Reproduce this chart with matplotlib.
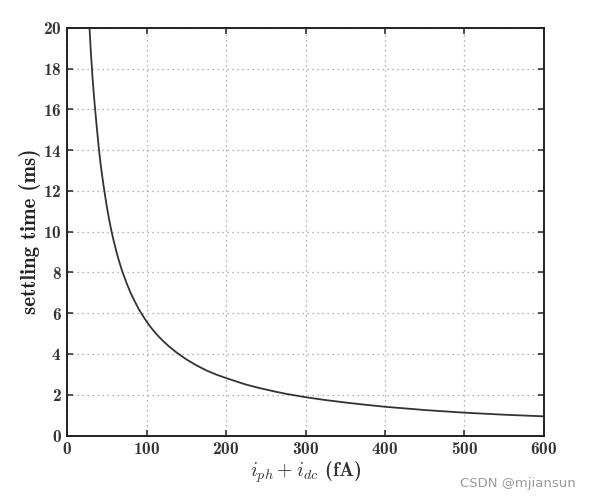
import matplotlib
matplotlib.use('Agg')
import matplotlib.pyplot as plt

# photocurrent + dark current (fA) vs settling time (ms)
current = [28.3, 29, 30, 31.2, 32, 33, 34, 35.4, 37, 38.5, 40, 42, 43.5, 45.8,
           48, 50, 52.5, 55, 57.5, 60, 62.5, 65, 67.5, 70, 75, 80, 85, 90, 96,
           100, 105, 110, 115, 120, 128, 137.5, 150, 162, 175, 187, 200, 225,
           242, 260, 275, 300, 325, 350, 375, 400, 450, 500, 550, 600]
settling = [20, 19.5, 18.8, 18.1, 17.6, 17.1, 16.6, 16, 15.3, 14.7, 14.1,
            13.4, 12.95, 12.3, 11.75, 11.25, 10.7, 10.2, 9.75, 9.35, 8.97,
            8.62, 8.3, 8.0, 7.47, 7.0, 6.6, 6.22, 5.84, 5.6, 5.33, 5.09, 4.87,
            4.67, 4.38, 4.08, 3.74, 3.46, 3.2, 3.0, 2.82, 2.5, 2.33, 2.17,
            2.05, 1.88, 1.74, 1.62, 1.51, 1.41, 1.25, 1.12, 1.02, 0.94]
xticks = [0, 100, 200, 300, 400, 500, 600]
yticks = [0, 2, 4, 6, 8, 10, 12, 14, 16, 18, 20]

plt.rcParams['font.family'] = 'serif'
plt.rcParams['font.serif'] = ['cmr10', 'DejaVu Serif']
plt.rcParams['mathtext.fontset'] = 'cm'
plt.rcParams['axes.formatter.use_mathtext'] = True

fig = plt.figure(figsize=(5.9, 4.98), dpi=100)
ax = fig.add_axes([0.1136, 0.1255, 0.8084, 0.8183])
ax.plot(current, settling, color='#333333', lw=1.3)

ax.set_xlim(0, 600)
ax.set_ylim(0, 20)
ax.set_xticks(xticks)
ax.set_yticks(yticks)
ax.tick_params(direction='in', top=True, right=True, length=4, width=1.2,
               labelsize=12.5, colors='#333333', pad=4)
for lab in ax.get_xticklabels() + ax.get_yticklabels():
    lab.set_family('cmb10')
ax.grid(True, linestyle=(0, (1, 3)), color='#999999', lw=0.9)
for s in ax.spines.values():
    s.set_linewidth(1.4)
    s.set_color('#222222')

ax.set_xlabel(r'$i_{ph}+i_{dc}$ (fA)', fontsize=14.5,
              color='#333333', labelpad=2, family='cmb10')
ax.set_ylabel('settling time (ms)', fontsize=15, color='#222222', labelpad=1,
              family='cmb10')

fig.text(0.975, 0.03, 'CSDN @mjiansun', family='DejaVu Sans', fontsize=9.5,
         color='#9a9a9a', ha='right', va='center')

fig.savefig('out.png', dpi=100)
